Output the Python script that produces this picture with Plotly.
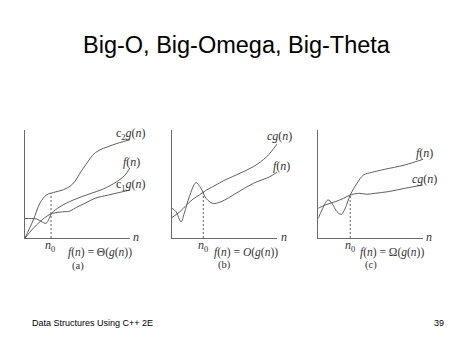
import plotly.graph_objects as go

W, H = 474, 355

# ---------------- data ----------------
# panel (a): f(n) = Theta(g(n))
a_c2g_x = [0, 0.79, 1.43, 2.07, 2.70, 3.65, 4.29, 4.76, 5.3, 5.8, 6.7, 8.3, 10.0]
a_c2g_y = [0, 1.67, 3.24, 4.00, 4.21, 4.47, 4.79, 5.25, 6.1, 6.8, 7.9, 8.6, 9.1]
a_f_x = [0, 0.6, 1.11, 1.59, 2.0, 2.31, 2.54, 3.33, 4.6, 6.19, 7.46, 8.73, 9.5, 10.0]
a_f_y = [1.80, 1.80, 1.76, 1.51, 1.36, 1.82, 2.29, 2.90, 3.52, 4.10, 4.54, 5.21, 5.8, 6.5]
a_c1g_x = [0, 0.79, 1.43, 2.38, 3.33, 4.29, 4.92, 5.71, 6.67, 7.94, 10.0]
a_c1g_y = [0, 0.9, 1.51, 2.19, 2.40, 2.50, 2.85, 3.21, 3.68, 3.98, 4.44]
a_n0 = 2.48
a_n0_top = 4.14

# panel (b): f(n) = O(g(n))
b_cg_x = [0, 0.76, 1.33, 2.0, 2.6, 3.3, 4.19, 4.9, 6.1, 7.74, 9.02, 10.0]
b_cg_y = [1.9, 2.44, 3.0, 3.6, 3.98, 4.45, 4.91, 5.3, 5.83, 6.60, 7.53, 8.7]
b_f_x = [0, 0.38, 0.86, 1.17, 1.65, 2.29, 2.76, 3.24, 3.88, 4.67, 6.1, 7.74, 9.33, 10.0]
b_f_y = [2.75, 2.44, 1.51, 2.28, 3.82, 5.12, 4.6, 3.68, 3.21, 3.36, 4.14, 5.06, 5.68, 6.1]
b_n0 = 2.98
b_n0_top = 4.4

# panel (c): f(n) = Omega(g(n))
c_f_x = [0, 0.35, 0.92, 1.3, 1.78, 2.19, 2.57, 3.05, 3.69, 4.32, 5.11, 6.35, 8.26, 10.0]
c_f_y = [1.82, 2.59, 3.52, 3.21, 2.44, 2.19, 2.75, 3.98, 5.06, 5.83, 6.08, 6.36, 6.76, 7.29]
c_cg_x = [0, 0.67, 1.62, 2.42, 3.05, 3.85, 4.64, 5.43, 6.67, 8.26, 10.0]
c_cg_y = [2.75, 3.06, 3.36, 3.68, 3.98, 4.14, 4.05, 4.14, 4.29, 4.60, 4.91]
c_n0 = 3.05
c_n0_top = 3.98

title_text = "Big-O, Big-Omega, Big-Theta"
footer_left = "Data Structures Using C++ 2E"
footer_right = "39"

# ---------------- layout helpers ----------------
LINE = "#5f5f5f"
TXT = "#333333"
SERIF = "Liberation Serif, DejaVu Serif, serif"
SANS = "Liberation Sans, Arial, sans-serif"

# panel plot areas (pixels: left, right), shared vertical extent
px_x = [(25, 130), (172, 277), (318.3, 423)]
px_top, px_bot = 130, 238
dom_y = (1 - px_bot / H, 1 - px_top / H)
dom_x = [(l / W, r / W) for l, r in px_x]


def to_paper(i, x, y):
    x0, x1 = dom_x[i]
    y0, y1 = dom_y
    return x0 + x / 10 * (x1 - x0), y0 + y / 10 * (y1 - y0)


fig = go.Figure()

curves = [
    (0, a_c2g_x, a_c2g_y), (0, a_f_x, a_f_y), (0, a_c1g_x, a_c1g_y),
    (1, b_cg_x, b_cg_y), (1, b_f_x, b_f_y),
    (2, c_f_x, c_f_y), (2, c_cg_x, c_cg_y),
]
for i, xs, ys in curves:
    sfx = "" if i == 0 else str(i + 1)
    fig.add_trace(go.Scatter(
        x=xs, y=ys, mode="lines", xaxis="x" + sfx, yaxis="y" + sfx,
        line=dict(color=LINE, width=1, shape="spline", smoothing=1.0),
        hoverinfo="skip", showlegend=False))

for i, (n0, top) in enumerate([(a_n0, a_n0_top), (b_n0, b_n0_top), (c_n0, c_n0_top)]):
    sfx = "" if i == 0 else str(i + 1)
    fig.add_trace(go.Scatter(
        x=[n0, n0], y=[0, top], mode="lines", xaxis="x" + sfx, yaxis="y" + sfx,
        line=dict(color=LINE, width=1, dash="2px,2px"),
        hoverinfo="skip", showlegend=False))

axis_common = dict(range=[0, 10], showgrid=False, zeroline=False, showticklabels=False,
                   ticks="", showline=True, linecolor="#6a6a6a", linewidth=1, fixedrange=True)
layout_axes = {}
for i in range(3):
    sfx = "" if i == 0 else str(i + 1)
    layout_axes["xaxis" + sfx] = dict(axis_common, domain=list(dom_x[i]), anchor="y" + sfx)
    layout_axes["yaxis" + sfx] = dict(axis_common, domain=list(dom_y), anchor="x" + sfx)

annotations = []


def label(i, x, y, text, size=12, xanchor="center", family=SERIF):
    px, py = to_paper(i, x, y)
    annotations.append(dict(x=px, y=py, xref="paper", yref="paper", text=text,
                            showarrow=False, xanchor=xanchor, yanchor="middle",
                            font=dict(family=family, size=size, color=TXT)))


# panel (a)
label(0, 10.1, 9.6, "c<sub>2</sub><i>g</i>(<i>n</i>)")
label(0, 10.16, 7.0, "<i>f</i>(<i>n</i>)")
label(0, 10.1, 4.95, "c<sub>1</sub><i>g</i>(<i>n</i>)")
label(0, 10.55, 0.05, "<i>n</i>")
label(0, 2.38, -0.75, "<i>n</i><sub>0</sub>")
label(0, 7.14, -1.3, "<i>f</i>(<i>n</i>) = Θ(<i>g</i>(<i>n</i>))", size=11.5)
label(0, 5.02, -2.55, "(a)", size=10.5)
# panel (b)
label(1, 10.22, 9.4, "<i>cg</i>(<i>n</i>)")
label(1, 10.44, 6.7, "<i>f</i>(<i>n</i>)")
label(1, 10.65, 0.05, "<i>n</i>")
label(1, 2.98, -0.75, "<i>n</i><sub>0</sub>")
label(1, 7.05, -1.3, "<i>f</i>(<i>n</i>) = <i>O</i>(<i>g</i>(<i>n</i>))", size=11.5)
label(1, 4.98, -2.5, "(b)", size=10.5)
# panel (c)
label(2, 10.16, 7.9, "<i>f</i>(<i>n</i>)")
label(2, 10.16, 5.5, "<i>cg</i>(<i>n</i>)")
label(2, 10.6, 0.05, "<i>n</i>")
label(2, 3.02, -0.75, "<i>n</i><sub>0</sub>")
label(2, 7.05, -1.35, "<i>f</i>(<i>n</i>) = Ω(<i>g</i>(<i>n</i>))", size=11.5)
label(2, 5.02, -2.5, "(c)", size=10.5)

annotations.append(dict(x=236.7 / W, y=1 - 45 / H, xref="paper", yref="paper", text=title_text,
                        showarrow=False, xanchor="center", yanchor="middle",
                        font=dict(family=SANS, size=23.5, color="#000000")))
annotations.append(dict(x=29.5 / W, y=1 - 323 / H, xref="paper", yref="paper", text=footer_left,
                        showarrow=False, xanchor="left", yanchor="middle",
                        font=dict(family=SANS, size=9, color="#000000")))
annotations.append(dict(x=446 / W, y=1 - 323 / H, xref="paper", yref="paper", text=footer_right,
                        showarrow=False, xanchor="right", yanchor="middle",
                        font=dict(family=SANS, size=9, color="#000000")))

fig.update_layout(width=W, height=H, margin=dict(l=0, r=0, t=0, b=0),
                  paper_bgcolor="white", plot_bgcolor="white",
                  annotations=annotations, **layout_axes)

fig.write_html("out.html", config={"displayModeBar": False},
               post_script="document.body.style.margin='0';document.body.style.overflow='hidden';")
